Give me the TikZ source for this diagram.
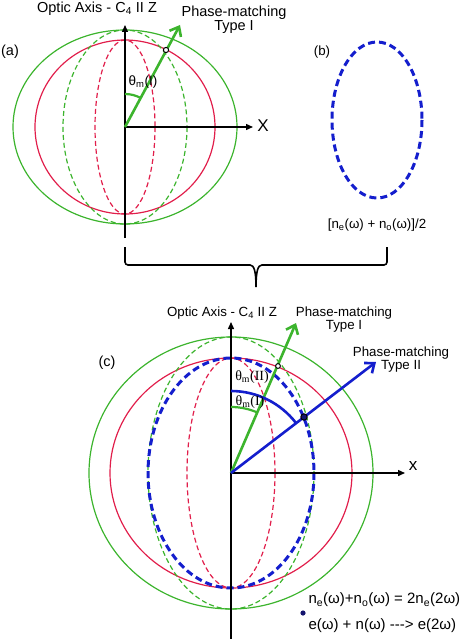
\documentclass[tikz,border=0pt]{standalone}
\usepackage{fontspec}
\setmainfont{Liberation Sans}
\newfontfamily\thetafont{Liberation Serif}
\usetikzlibrary{arrows.meta}
\definecolor{pmgreen}{RGB}{60,180,45}
\definecolor{pmred}{RGB}{225,30,75}
\definecolor{pmblue}{RGB}{20,30,205}
\definecolor{pmnavy}{RGB}{20,20,110}
\tikzset{
      axis/.style = { line width=1.4pt, -{Triangle[length=7pt,width=6pt]} },
    gsolid/.style = { pmgreen, line width=1.2pt },
    rsolid/.style = { pmred, line width=1.2pt },
   gdashed/.style = { pmgreen, line width=1.2pt, dash pattern=on 5pt off 3pt },
   rdashed/.style = { pmred, line width=1.2pt, dash pattern=on 5pt off 3pt },
   bdashed/.style = { pmblue, line width=3pt, dash pattern=on 7pt off 4pt },
    garrow/.style = { pmgreen, line width=2.6pt, -{Straight Barb[length=8pt,width=13pt]} },
    barrow/.style = { pmblue, line width=2.6pt, -{Straight Barb[length=8pt,width=13pt]} },
      garc/.style = { pmgreen, line width=2.2pt },
      barc/.style = { pmblue, line width=2.6pt },
   bracket/.style = { line width=1.6pt, rounded corners=3pt },
       txt/.style = { font=\fontsize{14.5}{17}\selectfont, align=center },
      txtc/.style = { font=\fontsize{13.3}{16}\selectfont, align=center },
     theta/.style = { font=\thetafont\fontsize{14}{16}\selectfont },
    legend/.style = { font=\fontsize{15}{18}\selectfont, anchor=west }
}

\begin{document}
\begin{tikzpicture}[x=1pt,y=-1pt]
  \useasboundingbox (0,0) rectangle (474,639);

  % (a)
  \coordinate (Oa)  at (125,127);
  \coordinate (aZb) at (125,238);
  \coordinate (aZt) at (125,25);
  \coordinate (aX)  at (253,127);
  \coordinate (aPM) at (180,25);
  \coordinate (aHit) at (166,50);
  \draw [gsolid]  (Oa) ellipse [x radius=112, y radius=97];
  \draw [rsolid]  (Oa) ellipse [x radius=90,  y radius=87];
  \draw [gdashed] (Oa) ellipse [x radius=62,  y radius=97];
  \draw [rdashed] (Oa) ellipse [x radius=30,  y radius=87];
  \draw [axis] (aZb) -- (aZt);
  \draw [axis] (Oa) -- (aX);
  \draw [garrow] (Oa) -- (aPM);
  \draw [garc] (Oa) ++(0,-33) arc [start angle=-90, end angle=-62, radius=33];
  \draw [black, line width=1pt, fill=white] (aHit) circle (2.6pt);
  \node [txt] (aZlbl) at (97,9) {Optic Axis - C\textsubscript{4} II Z};
  \node [txt] (aXlbl) at (263,126) {\fontsize{17}{19}\selectfont X};
  \node [txt] (aPMlbl) at (234,20) {Phase-matching\\[-3pt]Type I};
  \node [txt] (athlbl) at (143,82) {\fontsize{13.5}{16}\selectfont θ\textsubscript{m}(I)};
  \node [txt] (alab) at (10,52) {(a)};

  % (b)
  \coordinate (Ob) at (377,120);
  \draw [bdashed] (Ob) ellipse [x radius=45, y radius=78];
  \node [txt] (blab) at (322,52) {\fontsize{13.3}{16}\selectfont (b)};
  \node [txtc] (bavg) at (377,225) {[n\textsubscript{e}(ω) + n\textsubscript{o}(ω)]/2};

  % brace
  \coordinate (brL) at (125,247);
  \coordinate (brR) at (387,247);
  \coordinate (brT) at (256,287);
  \draw [bracket] (brL) -- ++(0,18) -- (247,265) .. controls (254,265) and (256,271) .. (brT);
  \draw [bracket] (brR) -- ++(0,18) -- (265,265) .. controls (258,265) and (256,271) .. (brT);

  % (c)
  \coordinate (Oc)  at (231,473);
  \coordinate (cZb) at (231,639);
  \coordinate (cZt) at (231,322);
  \coordinate (cX)  at (405,473);
  \coordinate (cPM1) at (296,323);
  \coordinate (cPM2) at (376,362);
  \coordinate (cHit1) at (278,366);
  \coordinate (cHit2) at (304,417);
  \draw [gsolid]  (Oc) ellipse [x radius=142, y radius=136];
  \draw [rsolid]  (Oc) ellipse [x radius=121, y radius=115];
  \draw [gdashed] (Oc) ellipse [x radius=83,  y radius=136];
  \draw [rdashed] (Oc) ellipse [x radius=44,  y radius=115];
  \draw [bdashed] (Oc) ellipse [x radius=83,  y radius=115];
  \draw [axis] (cZb) -- (cZt);
  \draw [axis] (Oc) -- (cX);
  \draw [garrow] (Oc) -- (cPM1);
  \draw [barrow] (Oc) -- (cPM2);
  \draw [barc] (Oc) ++(0,-82) arc [start angle=-90, end angle=-37.4, radius=82];
  \draw [garc] (Oc) ++(0,-66) arc [start angle=-90, end angle=-66.6, radius=66];
  \draw [black, line width=1pt, fill=white] (cHit1) circle (2.4pt);
  \draw [black, line width=1pt, fill=pmnavy] (cHit2) circle (3.2pt);
  \node [txtc] (cZlbl) at (222,313) {Optic Axis - C\textsubscript{4} II Z};
  \node [txtc] (cXlbl) at (413,466) {\fontsize{17}{19}\selectfont x};
  \node [txtc] (cPM1lbl) at (344,320) {Phase-matching\\[-3pt]Type I};
  \node [txtc] (cPM2lbl) at (401,360) {Phase-matching\\[-3pt]Type II};
  \node [theta] (cth2) at (252,377) {θ\textsubscript{m}(II)};
  \node [theta] (cth1) at (250,402) {θ\textsubscript{m}(I)};
  \node [txt] (clab) at (107,363) {(c)};

  % legend
  \fill [pmnavy] (303,613) circle (2.6pt);
  \node [legend] (leg1) at (305,600) {n\textsubscript{e}(ω)+n\textsubscript{o}(ω) = 2n\textsubscript{e}(2ω)};
  \node [legend] (leg2) at (305,626) {e(ω) + n(ω) -{}-{}-> e(2ω)};
\end{tikzpicture}
\end{document}
